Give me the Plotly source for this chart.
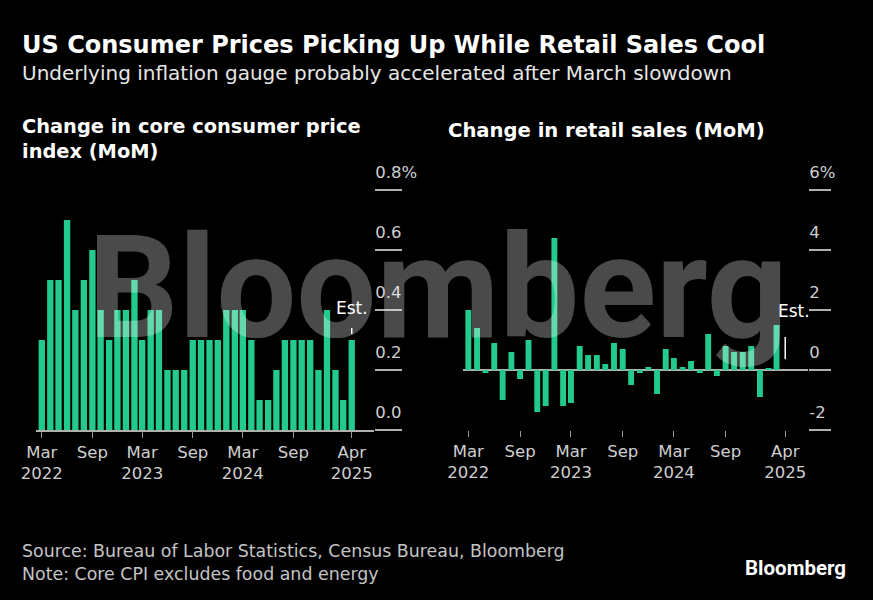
import plotly.graph_objects as go

months = ["2022-03", "2022-04", "2022-05", "2022-06", "2022-07", "2022-08", "2022-09", "2022-10",
          "2022-11", "2022-12", "2023-01", "2023-02", "2023-03", "2023-04", "2023-05", "2023-06",
          "2023-07", "2023-08", "2023-09", "2023-10", "2023-11", "2023-12", "2024-01", "2024-02",
          "2024-03", "2024-04", "2024-05", "2024-06", "2024-07", "2024-08", "2024-09", "2024-10",
          "2024-11", "2024-12", "2025-01", "2025-02", "2025-03", "2025-04"]

core_cpi = [0.3, 0.5, 0.5, 0.7, 0.4, 0.5, 0.6, 0.4, 0.3, 0.4, 0.4, 0.5, 0.3, 0.4, 0.4, 0.2,
            0.2, 0.2, 0.3, 0.3, 0.3, 0.3, 0.4, 0.4, 0.4, 0.3, 0.1, 0.1, 0.2, 0.3, 0.3, 0.3,
            0.3, 0.2, 0.4, 0.2, 0.1, 0.3]

retail = [2.0, 1.4, -0.1, 0.9, -1.0, 0.6, -0.3, 1.0, -1.4, -1.2, 4.4, -1.2, -1.1, 0.8, 0.5, 0.5,
          0.2, 0.9, 0.7, -0.5, -0.1, 0.1, -0.8, 0.7, 0.4, 0.1, 0.3, -0.1, 1.2, -0.2, 0.8, 0.6,
          0.6, 0.8, -0.9, 0.05, 1.5, 0.0]

x_tickvals = ["2022-03-01", "2022-09-01", "2023-03-01", "2023-09-01", "2024-03-01", "2024-09-01", "2025-04-01"]
x_ticktext = ["Mar<br>2022", "Sep", "Mar<br>2023", "Sep", "Mar<br>2024", "Sep", "Apr<br>2025"]

cpi_ticks = [0, 0.2, 0.4, 0.6, 0.8]
cpi_ticktext = ["0.0", "0.2", "0.4", "0.6", "0.8%"]
rs_ticks = [-2, 0, 2, 4, 6]
rs_ticktext = ["-2", "0", "2", "4", "6%"]

GREEN = "#22CB8D"
W, H = 873, 600
DAY_MS = 86400000

def px(x):
    return x / W

def py(y):
    return 1 - y / H

FONT = "DejaVu Sans"

fig = go.Figure()
fig.add_trace(go.Bar(x=months, y=core_cpi, marker=dict(color=GREEN, line=dict(width=0)),
                     width=23 * DAY_MS, xaxis="x", yaxis="y", showlegend=False))
fig.add_trace(go.Bar(x=months, y=retail, marker=dict(color=GREEN, line=dict(width=0)),
                     width=21 * DAY_MS, xaxis="x2", yaxis="y2", showlegend=False))

axis_font = dict(family=FONT, size=16.5, color="#cfcfcf")
ydom = [py(430), py(190)]

fig.update_layout(
    width=W, height=H, margin=dict(l=0, r=0, t=0, b=0, autoexpand=False),
    paper_bgcolor="black", plot_bgcolor="black",
    font=dict(family=FONT, color="white"),
    xaxis=dict(domain=[px(36), px(374)], type="date", range=["2022-02-08", "2025-06-21"],
               tickvals=x_tickvals, ticktext=x_ticktext, ticks="outside", ticklen=6,
               tickcolor="#9a9a9a", tickwidth=1, showline=True, linecolor="#b0b0b0", linewidth=1.5,
               showgrid=False, zeroline=False, tickfont=axis_font, anchor="y", automargin=False),
    yaxis=dict(domain=ydom, range=[0, 0.8], anchor="free", position=px(374), side="right",
               tickvals=cpi_ticks, ticktext=cpi_ticktext, ticks="outside", ticklen=27,
               tickcolor="#b0b0b0", tickwidth=1.5, showgrid=False, zeroline=False, showline=False,
               tickfont=axis_font, ticklabelshift=-18, ticklabelstandoff=-30, automargin=False),
    xaxis2=dict(domain=[px(463), px(808)], type="date", range=["2022-02-10", "2025-06-21"],
                tickvals=x_tickvals, ticktext=x_ticktext, ticks="outside", ticklen=6,
                tickcolor="#9a9a9a", tickwidth=1, showline=False,
                showgrid=False, zeroline=False, tickfont=axis_font, anchor="y2", automargin=False),
    yaxis2=dict(domain=ydom, range=[-2, 6], anchor="free", position=px(808), side="right",
                tickvals=rs_ticks, ticktext=rs_ticktext, ticks="outside", ticklen=22,
                tickcolor="#b0b0b0", tickwidth=1.5, showgrid=False, zeroline=True,
                zerolinecolor="#b0b0b0", zerolinewidth=1.5, showline=False,
                tickfont=axis_font, ticklabelshift=-18, ticklabelstandoff=-25, automargin=False),
)

ann = []
ann.append(dict(text="<b>US Consumer Prices Picking Up While Retail Sales Cool</b>", x=px(20), y=py(45),
                xref="paper", yref="paper", xanchor="left", yanchor="middle", showarrow=False,
                font=dict(family=FONT, size=24, color="white")))
ann.append(dict(text="Underlying inflation gauge probably accelerated after March slowdown", x=px(20), y=py(73),
                xref="paper", yref="paper", xanchor="left", yanchor="middle", showarrow=False,
                font=dict(family=FONT, size=20, color="#e6e6e6")))
ann.append(dict(text="<b>Change in core consumer price<br>index (MoM)</b>", x=px(20), y=py(138.5),
                xref="paper", yref="paper", xanchor="left", yanchor="middle", align="left", showarrow=False,
                font=dict(family=FONT, size=19.4, color="white")))
ann.append(dict(text="<b>Change in retail sales (MoM)</b>", x=px(446), y=py(131),
                xref="paper", yref="paper", xanchor="left", yanchor="middle", showarrow=False,
                font=dict(family=FONT, size=19.6, color="white")))
ann.append(dict(text="Source: Bureau of Labor Statistics, Census Bureau, Bloomberg<br>Note: Core CPI excludes food and energy",
                x=px(20), y=py(562), xref="paper", yref="paper", xanchor="left", yanchor="middle",
                align="left", showarrow=False, font=dict(family=FONT, size=17.4, color="#c4c4c4")))
ann.append(dict(text="<b>Bloomberg</b>", x=px(795), y=py(568), xref="paper", yref="paper",
                xanchor="center", yanchor="middle", showarrow=False,
                font=dict(family="Roboto", size=20.5, color="white")))
# watermark
ann.append(dict(text="<b>Bloomberg</b>", x=px(437.5), y=py(288), xref="paper", yref="paper",
                xanchor="center", yanchor="middle", showarrow=False,
                font=dict(family="Roboto", size=142, color="rgba(255,255,255,0.29)")))
# Est. labels
ann.append(dict(text="Est.", x="2025-04-01", y=0.407, xref="x", yref="y", xanchor="center", yanchor="middle",
                showarrow=False, font=dict(family=FONT, size=17, color="white")))
ann.append(dict(text="Est.", x="2025-04-01", y=1.96, xref="x2", yref="y2", xanchor="center", yanchor="middle",
                xshift=9, showarrow=False, font=dict(family=FONT, size=17, color="white")))
fig.update_layout(annotations=ann)

fig.add_shape(type="line", xref="x", yref="y", x0="2025-04-01", x1="2025-04-01", y0=0.32, y1=0.34,
              line=dict(color="white", width=1.5))
fig.add_shape(type="line", xref="x2", yref="y2", x0="2025-04-01", x1="2025-04-01", y0=0.36, y1=1.1,
              line=dict(color="white", width=1.5))

fig.write_html("out.html")
